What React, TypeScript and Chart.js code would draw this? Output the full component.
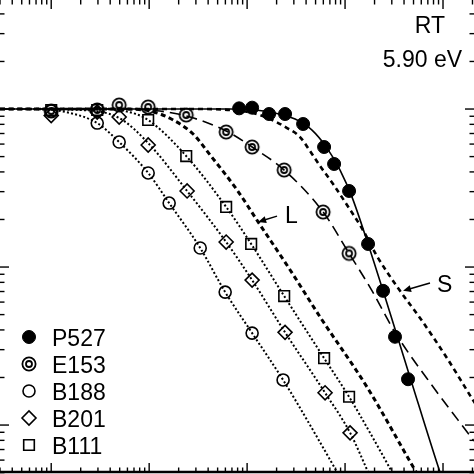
import React, { useEffect, useRef } from 'react';
import { Chart, registerables } from 'chart.js';
import { drawPoint } from 'chart.js/helpers';

Chart.register(...registerables);

// ---------- data ----------
const p527X = [82.9, 112.5, 167.6, 244, 373, 611, 773, 1099, 1717, 2443, 3236, 4395];
const p527Y = [1.01, 1.02, 0.93, 0.93, 0.804, 0.575, 0.449, 0.303, 0.14, 0.0707, 0.0362, 0.0195];
const p527FitX = [0.3, 10, 67.1, 120.7, 193, 309, 460, 655, 889, 1178, 1717, 2559, 4605, 9311, 10730];
const p527FitY = [1, 1, 1, 0.985, 0.943, 0.864, 0.736, 0.566, 0.411, 0.277, 0.14, 0.0646, 0.0201, 0.00503, 0.00391];

const e153X = [1, 2.95, 4.94, 9.77, 23.9, 61.1, 112.5, 239, 597, 1099];
const e153Y = [0.971, 0.986, 1.06, 1.03, 0.916, 0.715, 0.575, 0.411, 0.223, 0.122];
const e153FitX = [0.3, 6.4, 12.9, 26.2, 61.1, 112.5, 239, 597, 1099, 1888, 3236, 8286, 20720, 30200];
const e153FitY = [1, 1, 0.971, 0.89, 0.726, 0.575, 0.411, 0.223, 0.122, 0.0707, 0.0386, 0.0168, 0.00792, 0.00577];

const b188X = [1, 2.95, 4.94, 9.77, 16.0, 33.2, 59.7, 112.5, 233];
const b188Y = [0.971, 0.815, 0.618, 0.394, 0.254, 0.132, 0.0694, 0.0382, 0.0193];
const b188FitX = [0.3, 0.772, 1.56, 2.95, 4.94, 9.77, 16.0, 33.2, 59.7, 112.5, 233, 439, 828, 1000];
const b188FitY = [1, 1, 0.943, 0.815, 0.618, 0.394, 0.254, 0.132, 0.0694, 0.0382, 0.0193, 0.01, 0.00504, 0.00409];

const b201X = [1, 2.95, 4.94, 9.77, 24.4, 61.1, 112.5, 244, 625, 1125];
const b201Y = [0.91, 0.957, 0.89, 0.592, 0.303, 0.144, 0.0827, 0.0386, 0.016, 0.00893];
const b201FitX = [0.3, 1.98, 4.94, 9.77, 24.4, 61.1, 112.5, 244, 625, 1125, 1717, 2023];
const b201FitY = [1, 0.986, 0.877, 0.609, 0.303, 0.144, 0.0827, 0.0386, 0.016, 0.00893, 0.00504, 0.00399];

const b111X = [1, 2.95, 9.77, 23.9, 61.1, 110, 239, 611, 1099];
const b111Y = [0.986, 0.986, 0.852, 0.504, 0.24, 0.14, 0.0655, 0.0265, 0.0151];
const b111FitX = [0.3, 3.16, 5.69, 9.77, 23.9, 61.1, 110, 239, 611, 1099, 1799, 3018, 3640];
const b111FitY = [1, 1, 0.971, 0.852, 0.504, 0.24, 0.14, 0.0655, 0.0265, 0.0151, 0.00893, 0.00504, 0.00409];

const lFitX = [0.3, 5.06, 10.2, 17.6, 28.1, 41.9, 79.1, 129.5, 275, 556, 1675, 5176, 6109];
const lFitY = [1, 1, 0.971, 0.852, 0.695, 0.512, 0.307, 0.193, 0.0958, 0.0483, 0.0174, 0.00518, 0.00435];

const sFitX = [0.3, 33.2, 67.1, 115, 172, 256, 347, 439, 556, 755, 1000, 1527, 2122, 3640, 5824, 10990, 20230, 30200];
const sFitY = [1, 1, 0.986, 0.943, 0.864, 0.758, 0.665, 0.542, 0.436, 0.335, 0.258, 0.171, 0.117, 0.0707, 0.0476, 0.0265, 0.0144, 0.00982];

const legendNames = ['P527', 'E153', 'B188', 'B201', 'B111'];

const xDecades = [0.1, 1, 10, 100, 1000, 10000, 100000];
const yDecades = [0.001, 0.01, 0.1, 1, 10];
const minorMult = [1, 2, 3, 4, 5, 6, 7, 8, 9];

// annotation anchors in data space
const lArrow = { tail: [202, 0.21], tip: [129.5, 0.193], text: [244, 0.19] };
const sArrow = { tail: [7365, 0.0792], tip: [3908, 0.0707], text: [8690, 0.0694] };
const rtText = { label: 'RT', at: [10470, 3.03] };
const evText = { label: '5.90 eV', at: [15630, 1.84] };

const X_MIN = 0.3018;
const X_MAX = 20720;
const Y_MIN = 0.005045;
const Y_MAX = 4.898;

const zip = (xs: number[], ys: number[]) => xs.map((x, i) => ({ x, y: ys[i] }));

const FONT = '23px "Liberation Sans", Arial, Helvetica, sans-serif';
const INK = '#000';

function makeBullseye(): HTMLCanvasElement {
  const c = document.createElement('canvas');
  c.width = 18;
  c.height = 18;
  const g = c.getContext('2d')!;
  g.strokeStyle = INK;
  g.lineWidth = 1.8;
  g.beginPath();
  g.arc(9, 9, 6.6, 0, Math.PI * 2);
  g.stroke();
  g.beginPath();
  g.arc(9, 9, 3, 0, Math.PI * 2);
  g.stroke();
  return c;
}

export default function App() {
  const ref = useRef<HTMLCanvasElement | null>(null);

  useEffect(() => {
    if (!ref.current) return;
    const bull = makeBullseye();

    const markerStyles: any[] = [
      { pointStyle: 'circle', radius: 6.5, fill: INK, borderWidth: 1 },
      { pointStyle: bull, radius: 7, fill: 'rgba(0,0,0,0)', borderWidth: 0 },
      { pointStyle: 'circle', radius: 6, fill: 'rgba(0,0,0,0)', borderWidth: 1.6 },
      { pointStyle: 'rectRot', radius: 7, fill: 'rgba(0,0,0,0)', borderWidth: 1.6 },
      { pointStyle: 'rect', radius: 7.5, fill: 'rgba(0,0,0,0)', borderWidth: 1.6 },
    ];

    const markerData = [
      zip(p527X, p527Y),
      zip(e153X, e153Y),
      zip(b188X, b188Y),
      zip(b201X, b201Y),
      zip(b111X, b111Y),
    ];

    const markerSets = markerData.map((d, i) => ({
      label: legendNames[i],
      data: d,
      showLine: false,
      pointStyle: markerStyles[i].pointStyle,
      pointRadius: markerStyles[i].radius,
      pointBackgroundColor: markerStyles[i].fill,
      pointBorderColor: INK,
      pointBorderWidth: markerStyles[i].borderWidth,
      order: 0,
    }));

    const fit = (xs: number[], ys: number[], width: number, dash: number[], label: string) => ({
      label,
      data: zip(xs, ys),
      showLine: true,
      borderColor: INK,
      borderWidth: width,
      borderDash: dash,
      pointRadius: 0,
      fill: false,
      cubicInterpolationMode: 'monotone' as const,
      order: 1,
    });

    const fitSets = [
      fit(p527FitX, p527FitY, 1.6, [], 'P527 fit'),
      fit(e153FitX, e153FitY, 1.6, [11, 6], 'E153 fit'),
      fit(b188FitX, b188FitY, 2, [2, 2.2], 'B188 fit'),
      fit(b201FitX, b201FitY, 2, [2, 2.2], 'B201 fit'),
      fit(b111FitX, b111FitY, 2, [2, 2.2], 'B111 fit'),
      fit(lFitX, lFitY, 3, [5, 3.5], 'L'),
      fit(sFitX, sFitY, 2.6, [5, 4], 'S'),
    ];

    const framePlugin = {
      id: 'framePlugin',
      afterDraw(chart: any) {
        const { ctx, chartArea: a, scales } = chart;
        const xs = scales.x;
        const ys = scales.y;
        ctx.save();
        ctx.strokeStyle = INK;
        ctx.fillStyle = INK;
        ctx.lineWidth = 1.4;
        const seg = (x1: number, y1: number, x2: number, y2: number) => {
          ctx.beginPath();
          ctx.moveTo(x1, y1);
          ctx.lineTo(x2, y2);
          ctx.stroke();
        };
        for (const d of xDecades) {
          for (const m of minorMult) {
            const px = xs.getPixelForValue(d * m);
            if (px < a.left - 1 || px > a.right + 1) continue;
            const len = m === 1 ? 9 : 4.5;
            seg(px, a.top, px, a.top + len);
            seg(px, a.bottom, px, a.bottom - len);
          }
        }
        for (const d of yDecades) {
          for (const m of minorMult) {
            const py = ys.getPixelForValue(d * m);
            if (py < a.top - 1 || py > a.bottom + 1) continue;
            const len = m === 1 ? 9 : 4.5;
            seg(a.left, py, a.left + len, py);
            seg(a.right, py, a.right - len, py);
          }
        }
        ctx.lineWidth = 2.5;
        seg(a.left, a.bottom, a.right, a.bottom);

        // text labels
        ctx.font = FONT;
        ctx.textBaseline = 'alphabetic';
        ctx.textAlign = 'right';
        ctx.fillText(rtText.label, xs.getPixelForValue(rtText.at[0]), ys.getPixelForValue(rtText.at[1]));
        ctx.fillText(evText.label, xs.getPixelForValue(evText.at[0]), ys.getPixelForValue(evText.at[1]));

        // arrows
        const arrow = (tail: number[], tip: number[]) => {
          const x1 = xs.getPixelForValue(tail[0]);
          const y1 = ys.getPixelForValue(tail[1]);
          const x2 = xs.getPixelForValue(tip[0]);
          const y2 = ys.getPixelForValue(tip[1]);
          const ang = Math.atan2(y2 - y1, x2 - x1);
          const hl = 8;
          const hw = 3.5;
          ctx.lineWidth = 1.5;
          seg(x1, y1, x2 - Math.cos(ang) * hl * 0.6, y2 - Math.sin(ang) * hl * 0.6);
          ctx.beginPath();
          ctx.moveTo(x2, y2);
          ctx.lineTo(x2 - Math.cos(ang) * hl - Math.sin(ang) * hw, y2 - Math.sin(ang) * hl + Math.cos(ang) * hw);
          ctx.lineTo(x2 - Math.cos(ang) * hl + Math.sin(ang) * hw, y2 - Math.sin(ang) * hl - Math.cos(ang) * hw);
          ctx.closePath();
          ctx.fill();
        };
        arrow(lArrow.tail, lArrow.tip);
        arrow(sArrow.tail, sArrow.tip);
        ctx.textAlign = 'left';
        ctx.fillText('L', xs.getPixelForValue(lArrow.text[0]), ys.getPixelForValue(lArrow.text[1]));
        ctx.fillText('S', xs.getPixelForValue(sArrow.text[0]), ys.getPixelForValue(sArrow.text[1]));

        // legend
        const lx = a.left + 29;
        const ly0 = a.top + 337;
        const dy = 27;
        legendNames.forEach((name, i) => {
          const st = markerStyles[i];
          const cy = ly0 + dy * i;
          ctx.fillStyle = st.fill;
          ctx.strokeStyle = INK;
          ctx.lineWidth = st.borderWidth;
          drawPoint(ctx, { pointStyle: st.pointStyle, radius: st.radius, rotation: 0, borderWidth: st.borderWidth } as any, lx, cy);
          ctx.fillStyle = INK;
          ctx.textAlign = 'left';
          ctx.font = FONT;
          ctx.fillText(name, a.left + 52, cy + 8.5);
        });
        ctx.restore();
      },
    };

    const chart = new Chart(ref.current, {
      type: 'scatter',
      data: { datasets: [...markerSets, ...fitSets] as any },
      options: {
        animation: false,
        responsive: false,
        maintainAspectRatio: false,
        devicePixelRatio: 1,
        events: [],
        layout: { autoPadding: false, padding: { left: 0, right: 0, top: 0, bottom: 2 } },
        plugins: { legend: { display: false }, tooltip: { enabled: false }, title: { display: false } },
        scales: {
          x: { type: 'logarithmic', min: X_MIN, max: X_MAX, display: false },
          y: { type: 'logarithmic', min: Y_MIN, max: Y_MAX, display: false },
        },
      },
      plugins: [framePlugin],
    });
    return () => chart.destroy();
  }, []);

  return (
    <div style={{ position: 'fixed', left: 0, top: 0, width: 474, height: 474, background: '#fff' }}>
      <canvas ref={ref} width={474} height={474} style={{ display: 'block', width: 474, height: 474 }} />
    </div>
  );
}
